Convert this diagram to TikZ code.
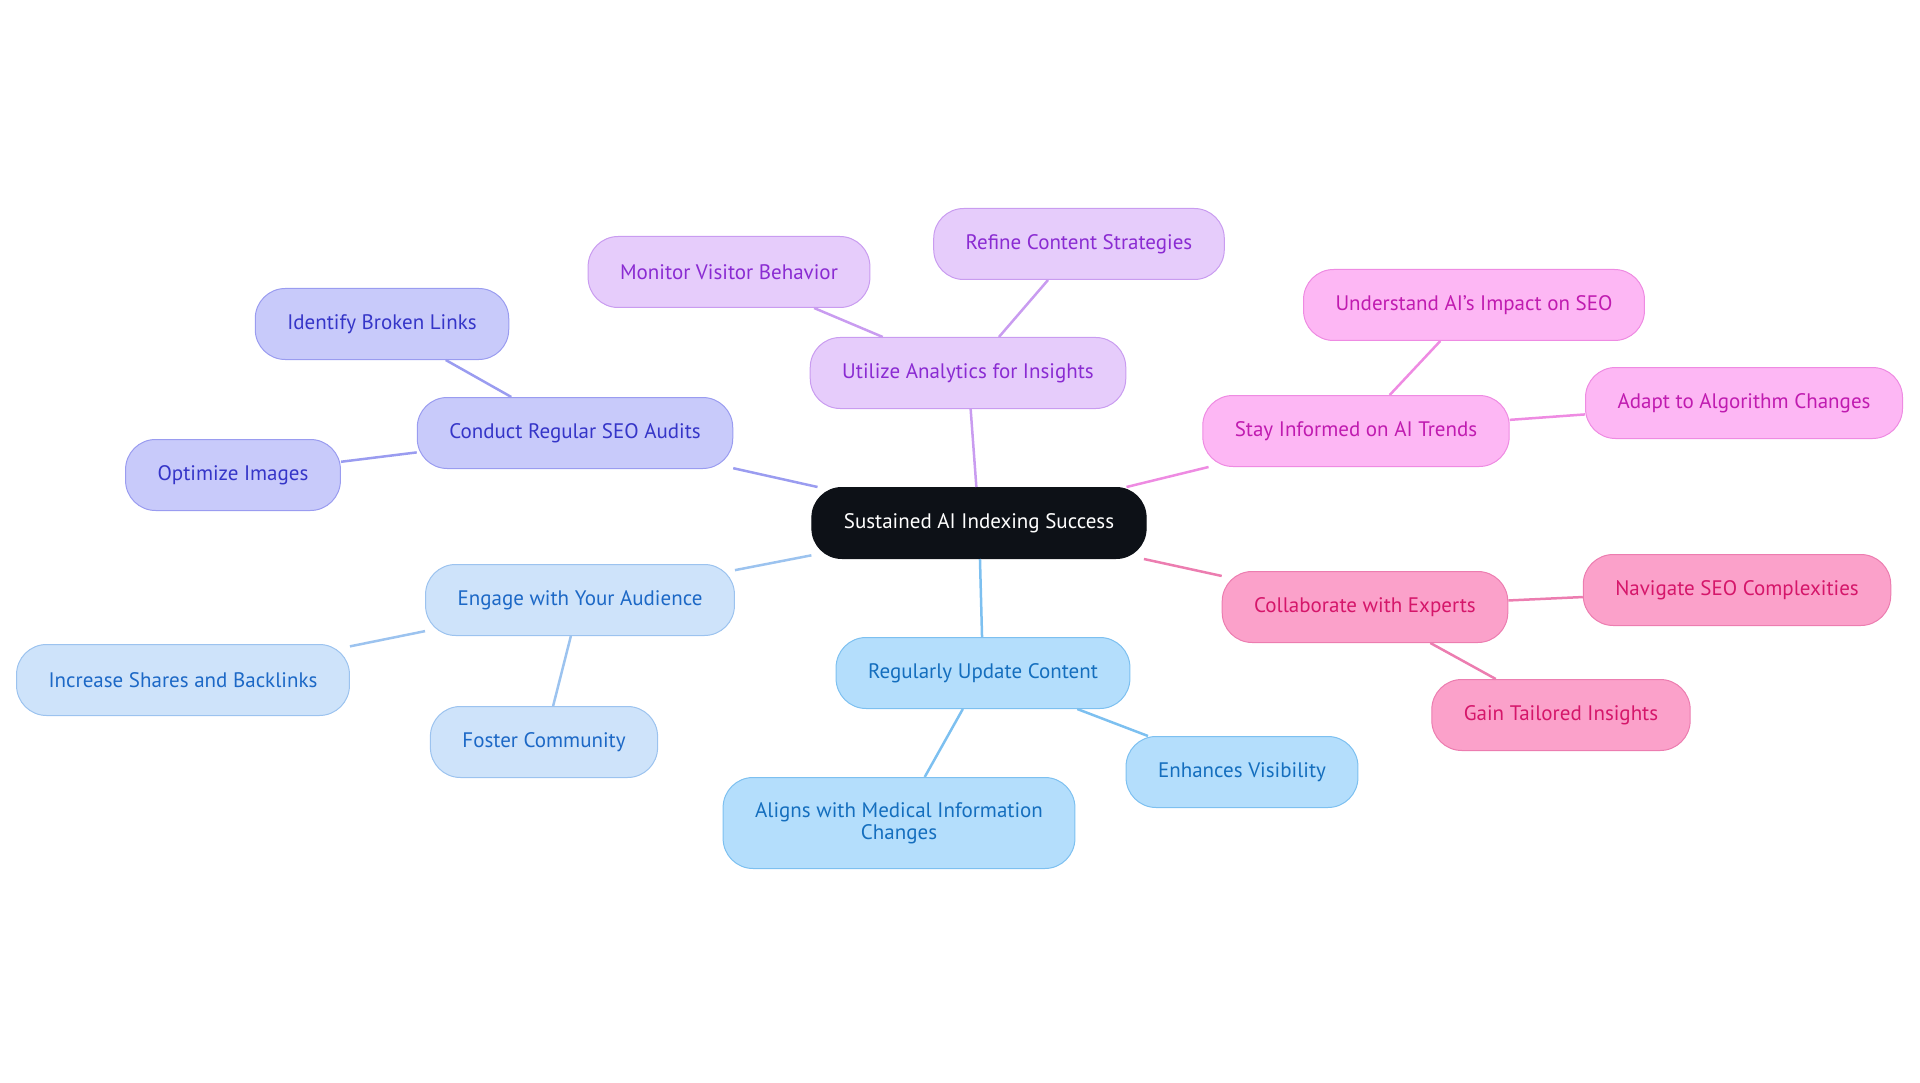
\documentclass[tikz,border=0pt]{standalone}
\usepackage{fontspec}
\setmainfont{PT Sans}

\definecolor{rootfill}{HTML}{0D1117}
\definecolor{auditfill}{HTML}{C8CAFA}
\definecolor{auditline}{HTML}{9A9CF0}
\definecolor{audittext}{HTML}{3535C8}
\definecolor{datafill}{HTML}{E6CCFB}
\definecolor{dataline}{HTML}{C99CF0}
\definecolor{datatext}{HTML}{8A2BD2}
\definecolor{trendfill}{HTML}{FDB7F4}
\definecolor{trendline}{HTML}{EE8BE2}
\definecolor{trendtext}{HTML}{C01BB0}
\definecolor{expertfill}{HTML}{FBA1CA}
\definecolor{expertline}{HTML}{EC7DB0}
\definecolor{experttext}{HTML}{D5166A}
\definecolor{updatefill}{HTML}{B4DEFC}
\definecolor{updateline}{HTML}{7DC0F0}
\definecolor{updatetext}{HTML}{146EBE}
\definecolor{engagefill}{HTML}{CEE3FA}
\definecolor{engageline}{HTML}{9CC3EF}
\definecolor{engagetext}{HTML}{1C68C6}

\begin{document}
\begin{tikzpicture}[x=1pt,y=-1pt,
  idea/.style={rounded corners=30pt,minimum height=71pt,inner xsep=32pt,
    line width=1pt,font=\fontsize{21}{22}\selectfont,align=center},
  root/.style={idea,fill=rootfill,draw=rootfill,text=white},
  audit/.style={idea,fill=auditfill,draw=auditline,text=audittext},
  data/.style={idea,fill=datafill,draw=dataline,text=datatext},
  trend/.style={idea,fill=trendfill,draw=trendline,text=trendtext},
  expert/.style={idea,fill=expertfill,draw=expertline,text=experttext},
  update/.style={idea,fill=updatefill,draw=updateline,text=updatetext},
  engage/.style={idea,fill=engagefill,draw=engageline,text=engagetext},
  link/.style={line width=2.5pt}]
  \useasboundingbox (0,0) rectangle (1920,1083);
  % Centre
  \node[root] (core) at (979,523) {Sustained AI Indexing Success};
  % SEO audits
  \node[audit] (audits) at (575,433) {Conduct Regular SEO Audits};
  \node[audit] (links) at (382,324) {Identify Broken Links};
  \node[audit] (images) at (233,475) {Optimize Images};
  % Analytics
  \node[data] (analytics) at (968,373) {Utilize Analytics for Insights};
  \node[data] (visitors) at (729,272) {Monitor Visitor Behavior};
  \node[data] (refine) at (1079,244) {Refine Content Strategies};
  % AI trends
  \node[trend] (trends) at (1356,431) {Stay Informed on AI Trends};
  \node[trend] (impact) at (1474,305) {Understand AI's Impact on SEO};
  \node[trend] (adapt) at (1744,403) {Adapt to Algorithm Changes};
  % Experts
  \node[expert] (experts) at (1365,607) {Collaborate with Experts};
  \node[expert] (navigate) at (1737,590) {Navigate SEO Complexities};
  \node[expert] (tailored) at (1561,715) {Gain Tailored Insights};
  % Content updates
  \node[update] (update) at (983,673) {Regularly Update Content};
  \node[update] (visible) at (1242,772) {Enhances Visibility};
  \node[update,minimum height=91pt] (medical) at (899,823) {Aligns with Medical Information\\Changes};
  % Audience
  \node[engage] (audience) at (580,600) {Engage with Your Audience};
  \node[engage] (shares) at (183,680) {Increase Shares and Backlinks};
  \node[engage] (community) at (544,742) {Foster Community};
  % Connectors
  \draw[link,auditline] (core) -- (audits);
  \draw[link,auditline] (audits) -- (links);
  \draw[link,auditline] (audits) -- (images);
  \draw[link,dataline] (core) -- (analytics);
  \draw[link,dataline] (analytics) -- (visitors);
  \draw[link,dataline] (analytics) -- (refine);
  \draw[link,trendline] (core) -- (trends);
  \draw[link,trendline] (trends) -- (impact);
  \draw[link,trendline] (trends) -- (adapt);
  \draw[link,expertline] (core) -- (experts);
  \draw[link,expertline] (experts) -- (navigate);
  \draw[link,expertline] (experts) -- (tailored);
  \draw[link,updateline] (core) -- (update);
  \draw[link,updateline] (update) -- (visible);
  \draw[link,updateline] (update) -- (medical);
  \draw[link,engageline] (core) -- (audience);
  \draw[link,engageline] (audience) -- (shares);
  \draw[link,engageline] (audience) -- (community);
\end{tikzpicture}
\end{document}
